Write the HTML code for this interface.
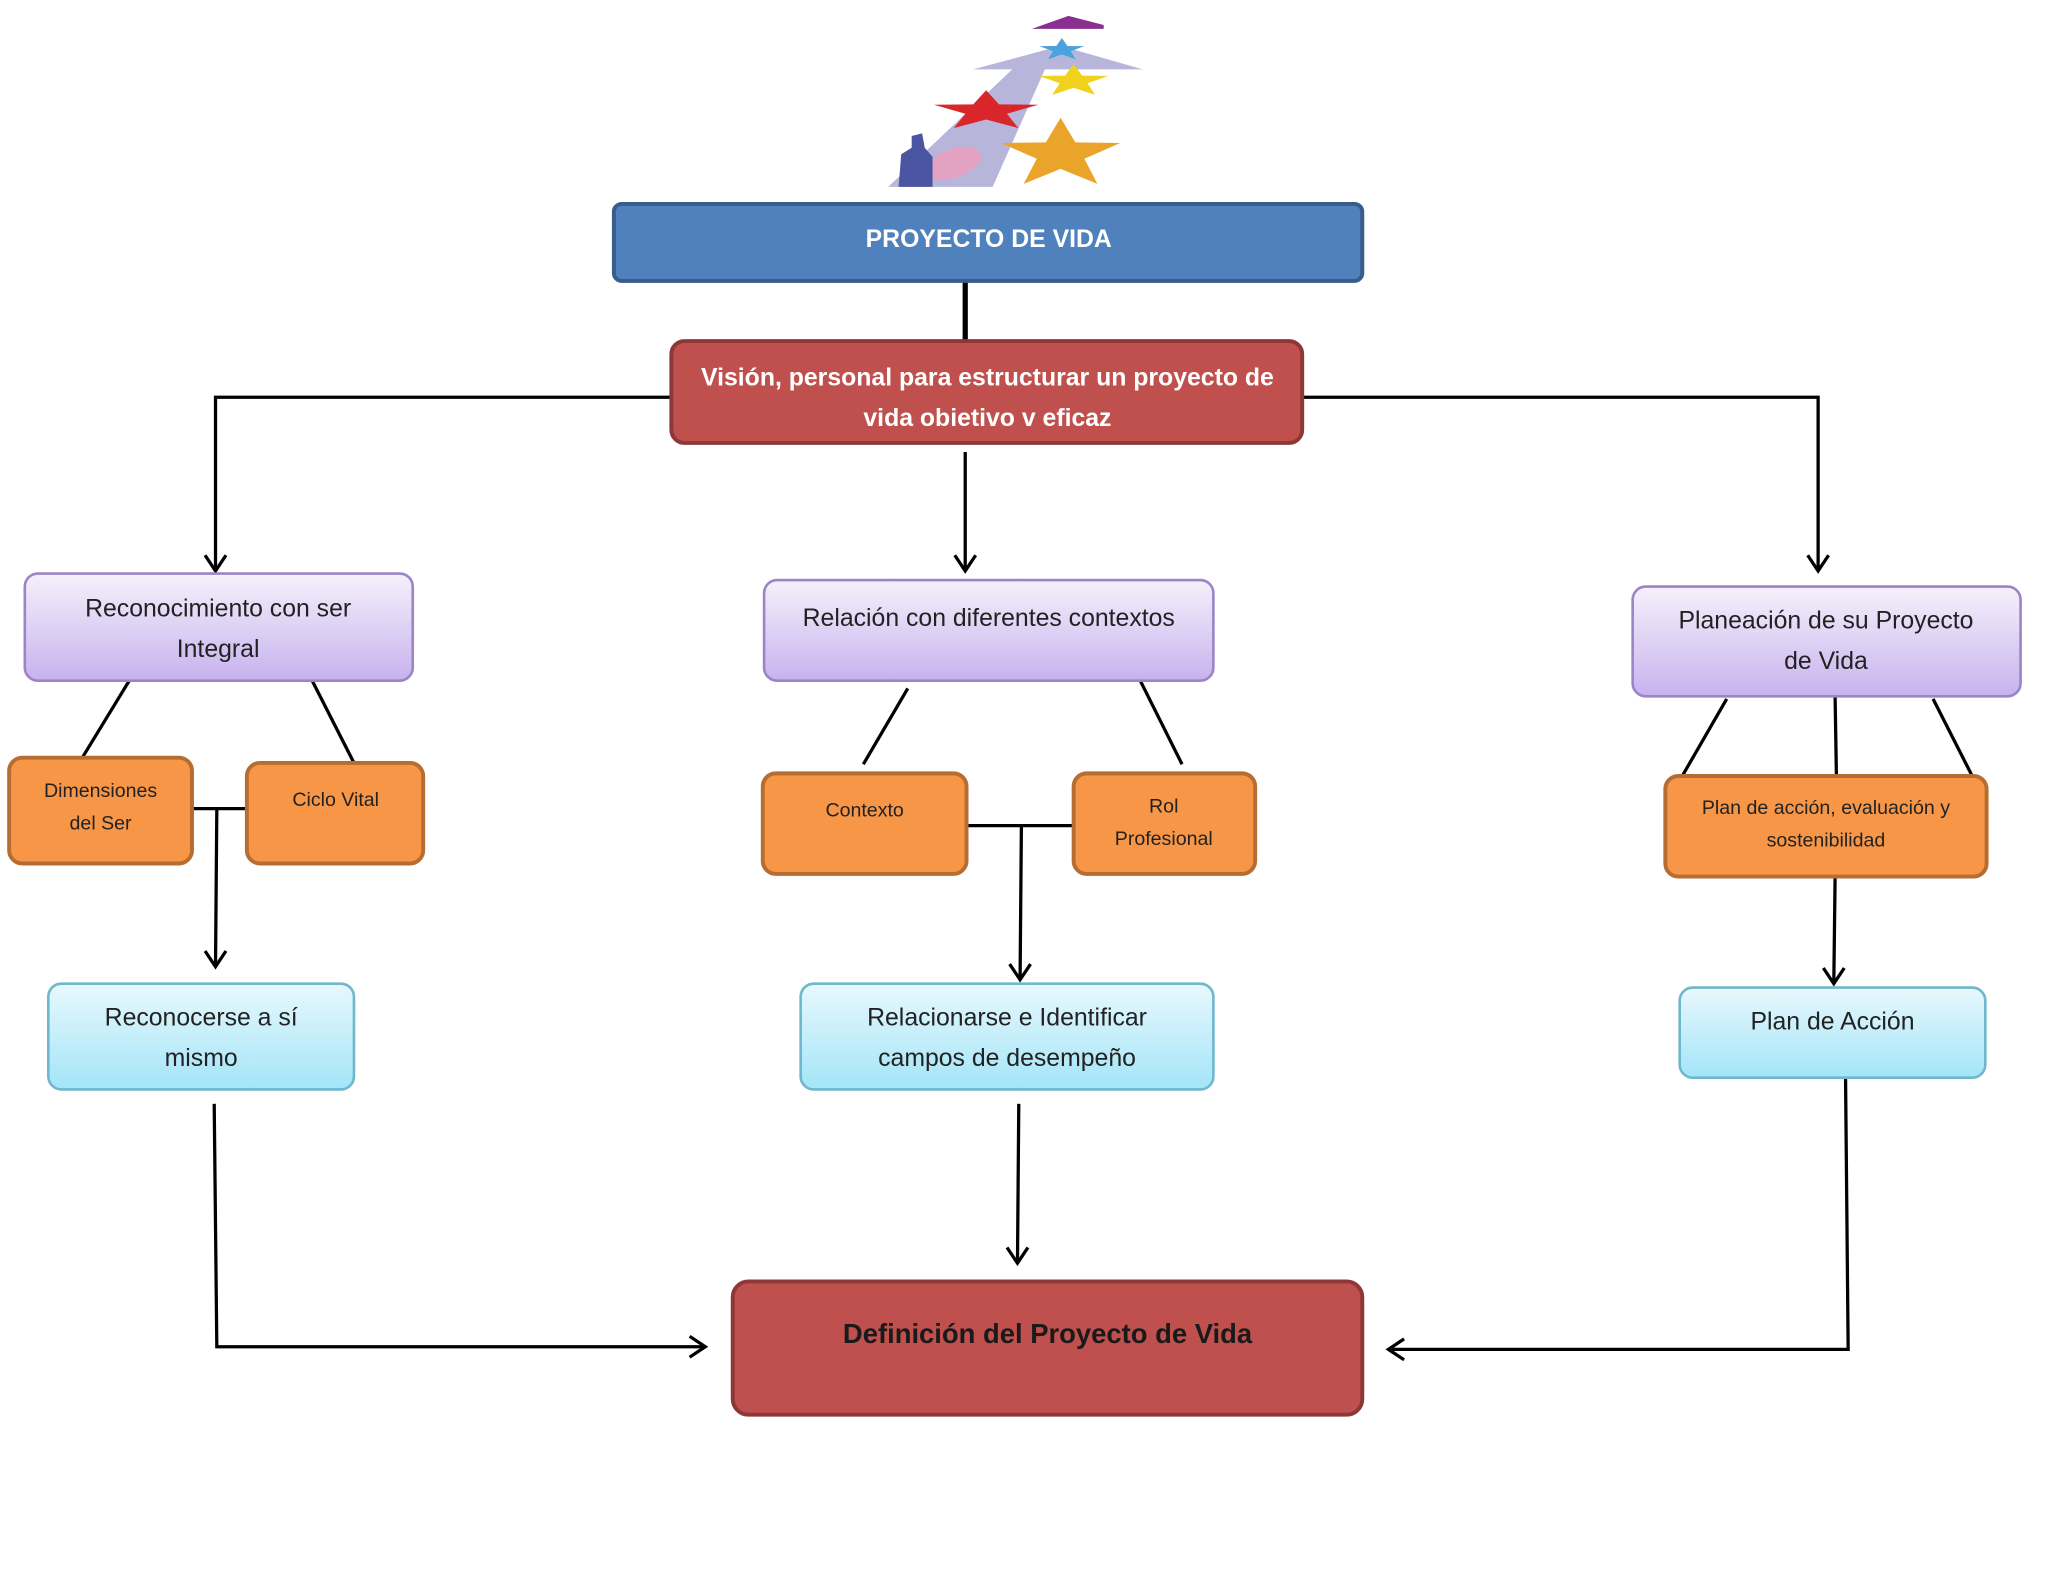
<!DOCTYPE html>
<html><head><meta charset="utf-8"><style>
html,body{margin:0;padding:0;background:#fff;}
svg{display:block;}
text{font-family:"Liberation Sans","DejaVu Sans",sans-serif;}
</style></head><body>
<svg width="2048" height="1582" viewBox="0 0 1568 1211" xmlns="http://www.w3.org/2000/svg">
<defs>
<linearGradient id="pur" x1="0" y1="0" x2="0" y2="1"><stop offset="0" stop-color="#f5f1fb"/><stop offset="1" stop-color="#c8b2ee"/></linearGradient>
<linearGradient id="cy" x1="0" y1="0" x2="0" y2="1"><stop offset="0" stop-color="#e8f8fd"/><stop offset="1" stop-color="#a3e5f8"/></linearGradient>
<polygon id="star" points="0,-1 0.235,-0.324 0.951,-0.309 0.380,0.124 0.588,0.809 0,0.4 -0.588,0.809 -0.380,0.124 -0.951,-0.309 -0.235,-0.324"/>
</defs>
<rect width="1568" height="1211" fill="#fff"/>
<!-- top graphic -->
<polygon points="680,143 760,143 800,53 875,53 812,35 745,53 775,53" fill="#b7b6da"/>
<polygon points="790,22 845,22 845,19 818,12" fill="#8a2f8f"/>
<g fill="#4aa3dc" transform="translate(813,38) scale(18,9)"><use href="#star"/></g>
<g fill="#f0d21e" transform="translate(822,62) scale(28,13)"><use href="#star"/></g>
<g fill="#d9262a" transform="translate(755,85) scale(42,16)"><use href="#star"/></g>
<ellipse cx="730" cy="125" rx="22" ry="11" fill="#e4a2c2" transform="rotate(-20 730 125)"/>
<g fill="#eba42a" transform="translate(812,118) scale(48,28)"><use href="#star"/></g>
<path d="M688,143 L690,118 L698,113 L698,104 L706,102 L708,113 L714,120 L714,143 Z" fill="#4a55a2"/>

<g stroke="#000" stroke-width="2.5" fill="none">
<line x1="739" y1="212" x2="739" y2="262" stroke-width="4"/>
<polyline points="514,304 165,304 165,437"/>
<polyline points="997,304 1392,304 1392,437"/>
<line x1="739" y1="346" x2="739" y2="437"/>
<line x1="99" y1="521" x2="63" y2="580"/>
<line x1="239" y1="521" x2="271" y2="584"/>
<line x1="147" y1="619" x2="189" y2="619"/>
<line x1="166" y1="619" x2="165" y2="740"/>
<line x1="695" y1="527" x2="661" y2="585"/>
<line x1="873" y1="521" x2="905" y2="585"/>
<line x1="740" y1="632" x2="822" y2="632"/>
<line x1="782" y1="632" x2="781" y2="750"/>
<line x1="1322" y1="535" x2="1288" y2="594"/>
<line x1="1405" y1="533" x2="1406" y2="594"/>
<line x1="1480" y1="535" x2="1512" y2="598"/>
<line x1="1405" y1="671" x2="1404" y2="753"/>
<polyline points="164,845 166,1031 540,1031"/>
<line x1="780" y1="845" x2="779" y2="967"/>
<polyline points="1413,825 1415,1033 1063,1033"/>
<!-- arrowheads -->
<polyline points="157,425 165,437 173,425"/>
<polyline points="1384,425 1392,437 1400,425"/>
<polyline points="731,425 739,437 747,425"/>
<polyline points="157,728 165,740 173,728"/>
<polyline points="773,738 781,750 789,738"/>
<polyline points="1396,741 1404,753 1412,741"/>
<polyline points="528,1023 540,1031 528,1039"/>
<polyline points="771,955 779,967 787,955"/>
<polyline points="1075,1025 1063,1033 1075,1041"/>
</g>

<rect x="470" y="156" width="573" height="59" rx="6" fill="#4f81bd" stroke="#385d8a" stroke-width="3"/>
<text x="757" y="189" font-size="19" font-weight="bold" fill="#fff" text-anchor="middle">PROYECTO DE VIDA</text>

<rect x="514" y="261" width="483" height="78" rx="10" fill="#c0504d" stroke="#8c3836" stroke-width="3"/>
<text x="756" y="295" font-size="19" font-weight="bold" fill="#fff" text-anchor="middle">Visión, personal para estructurar un proyecto de</text>
<text x="756" y="326" font-size="19" font-weight="bold" fill="#fff" text-anchor="middle">vida obietivo v eficaz</text>

<g stroke="#9b85c6" stroke-width="2" fill="url(#pur)">
<rect x="19" y="439" width="297" height="82" rx="10"/>
<rect x="585" y="444" width="344" height="77" rx="10"/>
<rect x="1250" y="449" width="297" height="84" rx="10"/>
</g>
<g font-size="19" fill="#222" text-anchor="middle">
<text x="167" y="472">Reconocimiento con ser</text>
<text x="167" y="503">Integral</text>
<text x="757" y="479">Relación con diferentes contextos</text>
<text x="1398" y="481">Planeación de su Proyecto</text>
<text x="1398" y="512">de Vida</text>
</g>

<g stroke="#b66d31" stroke-width="3" fill="#f79646">
<rect x="7" y="580" width="140" height="81" rx="10"/>
<rect x="189" y="584" width="135" height="77" rx="10"/>
<rect x="584" y="592" width="156" height="77" rx="10"/>
<rect x="822" y="592" width="139" height="77" rx="10"/>
<rect x="1275" y="594" width="246" height="77" rx="10"/>
</g>
<g font-size="15" fill="#222" text-anchor="middle">
<text x="77" y="610">Dimensiones</text>
<text x="77" y="635">del Ser</text>
<text x="257" y="617">Ciclo Vital</text>
<text x="662" y="625">Contexto</text>
<text x="891" y="622">Rol</text>
<text x="891" y="647">Profesional</text>
<text x="1398" y="623">Plan de acción, evaluación y</text>
<text x="1398" y="648">sostenibilidad</text>
</g>

<g stroke="#6fb7cc" stroke-width="2" fill="url(#cy)">
<rect x="37" y="753" width="234" height="81" rx="10"/>
<rect x="613" y="753" width="316" height="81" rx="10"/>
<rect x="1286" y="756" width="234" height="69" rx="10"/>
</g>
<g font-size="19" fill="#222" text-anchor="middle">
<text x="154" y="785">Reconocerse a sí</text>
<text x="154" y="816">mismo</text>
<text x="771" y="785">Relacionarse e Identificar</text>
<text x="771" y="816">campos de desempeño</text>
<text x="1403" y="788">Plan de Acción</text>
</g>

<rect x="561" y="981" width="482" height="102" rx="12" fill="#c0504d" stroke="#8c3836" stroke-width="3"/>
<text x="802" y="1028" font-size="21" font-weight="bold" fill="#1a1a1a" text-anchor="middle">Definición del Proyecto de Vida</text>
</svg>
</body></html>
